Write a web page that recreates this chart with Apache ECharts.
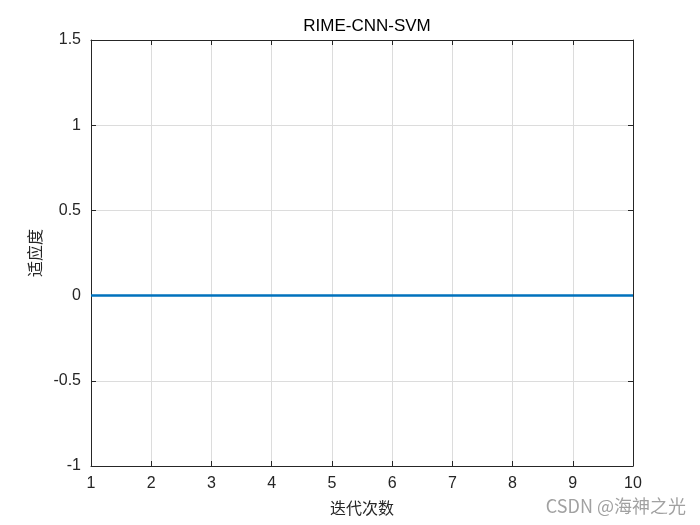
<!DOCTYPE html>
<html>
<head>
<meta charset="utf-8">
<script src="https://cdn.jsdelivr.net/npm/echarts@6/dist/echarts.min.js"></script>
<style>html,body{margin:0;padding:0;background:#fff;}#c{width:700px;height:525px;}</style>
</head>
<body>
<div id="c"></div>
<script>
const iterations = [1, 2, 3, 4, 5, 6, 7, 8, 9, 10];
const fitness = [0, 0, 0, 0, 0, 0, 0, 0, 0, 0];
const titleText = 'RIME-CNN-SVM';
const xName = '迭代次数';
const yName = '适应度';
const watermark = 'CSDN @海神之光';

const chart = echarts.init(document.getElementById('c'), null, {renderer: 'canvas'});
const font = '"Liberation Sans", Arial, sans-serif';
const cjk = '"Noto Sans CJK SC", "Liberation Sans", sans-serif';
const axisCommon = {
  axisLine: {show: true, onZero: false, lineStyle: {color: '#262626', width: 1}},
  axisTick: {show: true, inside: true, length: 5, lineStyle: {color: '#262626'}},
  axisLabel: {color: '#262626', fontSize: 16, fontFamily: font},
  splitLine: {show: false}
};
chart.setOption({
  animation: false,
  title: {text: titleText, left: 362, top: 13, textAlign: 'center',
    textStyle: {fontSize: 17, fontWeight: 'normal', color: '#000', fontFamily: font}},
  grid: {left: 91, right: 67, top: 40, bottom: 59, containLabel: false},
  xAxis: [
    Object.assign({}, axisCommon, {type: 'value', min: 1, max: 10, interval: 1, position: 'bottom',
      name: xName, nameLocation: 'middle', nameGap: 34,
      nameTextStyle: {fontSize: 16, color: '#262626', fontFamily: cjk},
      axisLabel: Object.assign({}, axisCommon.axisLabel, {margin: 10}),
      splitLine: {show: true, lineStyle: {color: '#dcdcdc', width: 1}}}),
    Object.assign({}, axisCommon, {type: 'value', min: 1, max: 10, interval: 1, position: 'top',
      axisLabel: {show: false}})
  ],
  yAxis: [
    Object.assign({}, axisCommon, {type: 'value', min: -1, max: 1.5, interval: 0.5, position: 'left',
      name: yName, nameLocation: 'middle', nameGap: 36, nameRotate: 90,
      nameTextStyle: {fontSize: 16, color: '#262626', fontFamily: cjk},
      axisLabel: Object.assign({}, axisCommon.axisLabel, {margin: 10}),
      splitLine: {show: true, lineStyle: {color: '#dcdcdc', width: 1}}}),
    Object.assign({}, axisCommon, {type: 'value', min: -1, max: 1.5, interval: 0.5, position: 'right',
      axisLabel: {show: false}})
  ],
  series: [{
    type: 'line',
    data: iterations.map((x, i) => [x, fitness[i]]),
    showSymbol: false,
    lineStyle: {color: '#0072BD', width: 2.5},
    itemStyle: {color: '#0072BD'},
    z: 5
  }],
  graphic: [{
    type: 'text', right: 14, top: 497,
    style: {text: watermark, fill: 'rgba(130,130,130,0.75)', fontSize: 18, fontFamily: cjk}
  }]
});
</script>
</body>
</html>
